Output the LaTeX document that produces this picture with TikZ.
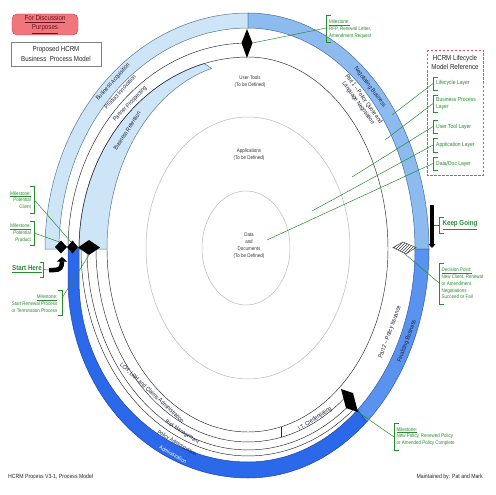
\documentclass[tikz,border=0pt]{standalone}
\usepackage{fontspec}
\setmainfont{Liberation Sans}[FakeStretch=0.86]
\usetikzlibrary{patterns,arrows.meta}
\definecolor{acqblue}{RGB}{205,229,247}
\definecolor{acqedge}{RGB}{90,120,150}
\definecolor{negblue}{RGB}{141,187,240}
\definecolor{negedge}{RGB}{70,110,160}
\definecolor{finblue}{RGB}{90,146,240}
\definecolor{finedge}{RGB}{50,90,170}
\definecolor{admblue}{RGB}{43,104,234}
\definecolor{admedge}{RGB}{30,70,170}
\definecolor{cgreen}{RGB}{38,140,45}
\definecolor{redfill}{RGB}{240,118,125}
\definecolor{rededge}{RGB}{190,60,70}
\definecolor{redtext}{RGB}{110,20,30}
\definecolor{refred}{RGB}{225,80,90}
\definecolor{ringtxt}{RGB}{25,30,55}
\newcommand{\ellarc}[6]{plot[domain=#5:#6,samples=45] ({#1+#3*cos(\x)},{#2+#4*sin(\x)})}
\newcommand{\ellto}[6]{-- plot[domain=#5:#6,samples=45] ({#1+#3*cos(\x)},{#2+#4*sin(\x)})}
\newcommand{\brkopen}[3]{\draw[brk] ({#1+5},#2) -- (#1,#2) -- (#1,#3) -- ({#1+5},#3);}
\newcommand{\brkclose}[3]{\draw[brk] ({#1-4},#2) -- (#1,#2) -- (#1,#3) -- ({#1-4},#3);}
\begin{document}
\begin{tikzpicture}[x=1pt,y=-1pt,
  thinline/.style={draw=black!85,line width=0.45pt},
  grayell/.style={draw=black!28,line width=0.5pt},
  callline/.style={draw=cgreen,line width=0.5pt},
  brk/.style={draw=cgreen,line width=0.5pt},
  ctext/.style={text=cgreen,font=\fontsize{5.2}{6.7}\selectfont,inner sep=0pt},
  ringtext/.style={text=ringtxt,font=\fontsize{6}{6.8}\selectfont,inner sep=0pt,align=center},
  smallring/.style={text=ringtxt,font=\fontsize{5.6}{6.4}\selectfont,inner sep=0pt,align=center},
  midtext/.style={text=black!80,font=\fontsize{5.2}{7}\selectfont,inner sep=0pt,align=center},
  reftext/.style={text=cgreen,font=\fontsize{5.8}{7.3}\selectfont,inner sep=0pt,align=left,anchor=west},
  bigtext/.style={text=cgreen,font=\bfseries\fontsize{7.2}{8}\selectfont,inner sep=0pt},
  band/.style={line width=0.5pt}]
\useasboundingbox (0,0) rectangle (495,495);
\fill[white] (0,0) rectangle (495,495);

% ---------- bands ----------
\filldraw[band,fill=acqblue,draw=acqedge] \ellarc{248}{249}{203}{236}{180}{270} \ellto{248}{249}{189}{221}{270}{180} -- cycle;
\filldraw[band,fill=negblue,draw=negedge] \ellarc{248}{249}{181}{236}{270}{360} \ellto{248}{249}{167}{221}{360}{270} -- cycle;
\filldraw[band,fill=finblue,draw=finedge] \ellarc{248}{249}{181}{229}{0}{49} \ellto{248}{249}{167}{213}{49}{0} -- cycle;
\filldraw[band,fill=admblue,draw=admedge] \ellarc{248}{249}{181}{229}{49}{90} \ellto{248}{280}{180}{198}{90}{180} -- (68,248) -- (79,248) \ellto{248}{280}{169}{182}{180}{90} \ellto{248}{249}{167}{213}{90}{49} -- cycle;
\filldraw[band,fill=acqblue,draw=acqedge] \ellarc{248}{249}{169}{192}{180}{255} \ellto{248}{249}{141}{187}{255}{180} -- cycle;

% ---------- track lines ----------
\draw[thinline] \ellarc{248}{249}{180}{206}{180}{268};
\draw[thinline] \ellarc{248}{249}{169}{192}{180}{270} \ellto{248}{249}{140}{192}{270}{360} \ellto{248}{249}{140}{183}{0}{90} \ellto{248}{249}{141}{183}{90}{180};
\draw[thinline] \ellarc{248}{249}{152}{193}{50}{180};
\draw[thinline] \ellarc{248}{249}{161}{201}{50}{180};
\draw[thinline] \ellarc{248}{249}{167}{207}{50}{180};
\coordinate (divTop) at (281,427);
\coordinate (divBot) at (281,437);
\draw[thinline] (divTop) -- (divBot);

% ---------- inner ellipses ----------
\draw[grayell] (248,248) ellipse [x radius=102pt, y radius=131pt];
\draw[grayell] (246,248) ellipse [x radius=44pt, y radius=57pt];

% ---------- diamonds ----------
\fill[black] (247,29) -- (252.5,43) -- (247,58) -- (241.5,43) -- cycle;
\coordinate (dTopR) at (252.5,43);
\fill[black] (55,247) -- (61,240.5) -- (67,247) -- (61,253.5) -- cycle;
\coordinate (dOneT) at (59.5,242);
\fill[black] (67,247) -- (72.5,240.5) -- (78,247) -- (72.5,253.5) -- cycle;
\coordinate (dTwoT) at (71,242);
\fill[black] (78,247.5) -- (89,240) -- (100,247.5) -- (89,255) -- cycle;
\coordinate (dThreeB) at (89,255);
\fill[black] (341,389) -- (353,393) -- (358,412) -- (346,408) -- cycle;
\coordinate (dBRb) at (358,412);
\filldraw[pattern=north east lines,pattern color=black!75,draw=black!70,line width=0.5pt] (393,247.5) -- (403,242) -- (416,247.5) -- (406,254) -- cycle;
\coordinate (dHatch) at (405,254);

% ---------- arrows ----------
\coordinate (kTop) at (432,205);
\coordinate (kBot) at (432,248);
\draw[line width=3.4pt,-{Triangle[length=4pt,width=7pt]}] (kTop) -- (kBot);
\coordinate (sTail) at (49,270);
\coordinate (sHead) at (62,257);
\draw[line width=4.5pt,-{Triangle[length=4.5pt,width=10pt]}] (sTail) -- (54,270) .. controls (60,270) and (62,268) .. (sHead);

% ---------- ring labels ----------
\node[ringtext,rotate=48] (tAcq) at (113,82) {Business Acquisition};
\node[ringtext,rotate=47] (tInno) at (120,92) {Product Innovation};
\node[ringtext,rotate=46] (tPros) at (130,104) {Partner Prospecting};
\node[ringtext,rotate=57] (tRet) at (127,131) {Business Retention};
\node[ringtext,rotate=-53] (tNeg) at (370,87) {Negotiating Business};
\node[ringtext,rotate=-54] (tPart1) at (361,101) {Part 1 -- Policy Quote and\\Language Negotiation};
\node[ringtext,rotate=70] (tPart2) at (390,332) {Part 2 -- Policy Issuance};
\node[ringtext,rotate=70] (tFin) at (407,341) {Finalizing Business};
\node[ringtext,rotate=33] (tIT) at (315,419) {I.T. Credentialing};
\node[ringtext,rotate=-43] (tLCH) at (152,393) {LCH, LRH and Claims Administration};
\node[smallring,rotate=-33] (tRisk) at (182,432) {Risk Management};
\node[smallring,rotate=-31] (tPolAdm) at (177,443.5) {Policy Administration};
\node[smallring,text=white,rotate=-30] (tAdm) at (173,454.5) {Administration};

% ---------- center labels ----------
\node[midtext] (tUser) at (250,81.5) {User Tools\\(To be Defined)};
\node[midtext] (tApp) at (249,155) {Applications\\(To be Defined)};
\node[midtext] (tData) at (249,246) {Data\\and\\Documents\\(To be Defined)};

% ---------- top-left boxes ----------
\node[draw=rededge,fill=redfill,rounded corners=5pt,minimum width=66pt,minimum height=21pt,inner sep=0pt,align=center,text=redtext,font=\fontsize{7.2}{9}\selectfont] (disc) at (45,24.5) {\underline{For Discussion}\\\underline{Purposes}};
\node[draw=black!50,fill=white,minimum width=90pt,minimum height=24pt,inner sep=0pt,align=center,text=black!85,font=\fontsize{7.2}{10}\selectfont] (ttl) at (56,54) {Proposed HCRM\\Business\ \ Process Model};

% ---------- footer ----------
\node[anchor=west,inner sep=0pt,text=black!85,font=\fontsize{6}{7}\selectfont] (foot1) at (8,477) {HCRM Process V3-1, Process Model};
\node[anchor=east,inner sep=0pt,text=black!85,font=\fontsize{6}{7}\selectfont] (foot2) at (483,477) {Maintained by: Pat and Mark};

% ---------- callouts ----------
\node[ctext,align=left,anchor=west] (mTop) at (329,29) {\underline{Milestone:}\\RFP, Renewal Letter,\\Amendment Request};
\brkopen{326}{15}{42}
\coordinate (bTop) at (326,28);
\draw[callline] (dTopR) -- (bTop);

\node[ctext,align=right,anchor=east] (mClient) at (31,200) {\underline{Milestone:}\\Potential\\Client};
\brkclose{34}{186}{213}
\coordinate (bClient) at (34,199.5);
\draw[callline] (bClient) -- (dTwoT);

\node[ctext,align=right,anchor=east] (mProduct) at (31,232.5) {\underline{Milestone:}\\Potential\\Product};
\brkclose{34}{221}{245}
\coordinate (bProduct) at (34,233);
\draw[callline] (bProduct) -- (dOneT);

\node[ctext,align=right,anchor=east] (mRenew) at (57.5,303.5) {\underline{Milestone:}\\Start Renewal Process\\or Termination Process};
\brkclose{62}{290}{315}
\coordinate (bRenew) at (62,298);
\draw[callline] (bRenew) -- (dThreeB);

\node[bigtext] (startN) at (27,269.5) {\underline{Start Here}};
\brkclose{43.5}{262}{277}
\coordinate (bStart) at (43.5,269.5);
\draw[callline] (bStart) -- (sTail);

\node[bigtext] (keepN) at (460,225) {\underline{Keep Going}};
\brkopen{439}{217}{233}
\coordinate (bKeep) at (439,225);
\coordinate (kMid) at (433.8,225);
\draw[callline] (kMid) -- (bKeep);

\node[ctext,align=left,anchor=west] (mDec) at (441.5,283.5) {\underline{Decision Point:}\\New Client, Renewal\\or Amendment\\Negotiations\\Succeed or Fail};
\brkopen{439}{263}{304}
\coordinate (bDec) at (439,283);
\draw[callline] (dHatch) -- (bDec);

\node[ctext,align=left,anchor=west] (mNew) at (396.5,436.5) {\underline{Milestone:}\\New Policy, Renewed Policy\\or Amended Policy Complete};
\brkopen{394}{423}{450}
\coordinate (bNew) at (394,437);
\draw[callline] (dBRb) -- (bNew);

% ---------- reference box ----------
\draw[draw=refred,line width=0.6pt,dash pattern=on 2.5pt off 1.5pt] (427,50) rectangle (483,175);
\node[inner sep=0pt,align=center,text=black!85,font=\fontsize{7.2}{9}\selectfont] (refT) at (455,62) {HCRM Lifecycle\\Model Reference};
\node[reftext] (rL1) at (436,83.5) {Lifecycle Layer};
\node[reftext] (rL2) at (436,103.5) {Business Process\\Layer};
\node[reftext] (rL3) at (436,126.5) {User Tool Layer};
\node[reftext] (rL4) at (436,145) {Application Layer};
\node[reftext] (rL5) at (436,163.5) {Data/Doc Layer};
\brkopen{433}{77}{90}
\brkopen{433}{95}{112}
\brkopen{433}{120}{133}
\brkopen{433}{138}{152}
\brkopen{433}{157}{170}
\coordinate (a1) at (433,83.5);
\coordinate (a2) at (433,103.5);
\coordinate (a3) at (433,126.5);
\coordinate (a4) at (433,145);
\coordinate (a5) at (433,163.5);
\coordinate (p1) at (392,115);
\coordinate (p2) at (385,140);
\coordinate (p3) at (352,177);
\coordinate (p4) at (312,211);
\coordinate (p5) at (267,240);
\draw[callline] (a1) -- (p1);
\draw[callline] (a2) -- (p2);
\draw[callline] (a3) -- (p3);
\draw[callline] (a4) -- (p4);
\draw[callline] (a5) -- (p5);
\end{tikzpicture}
\end{document}
